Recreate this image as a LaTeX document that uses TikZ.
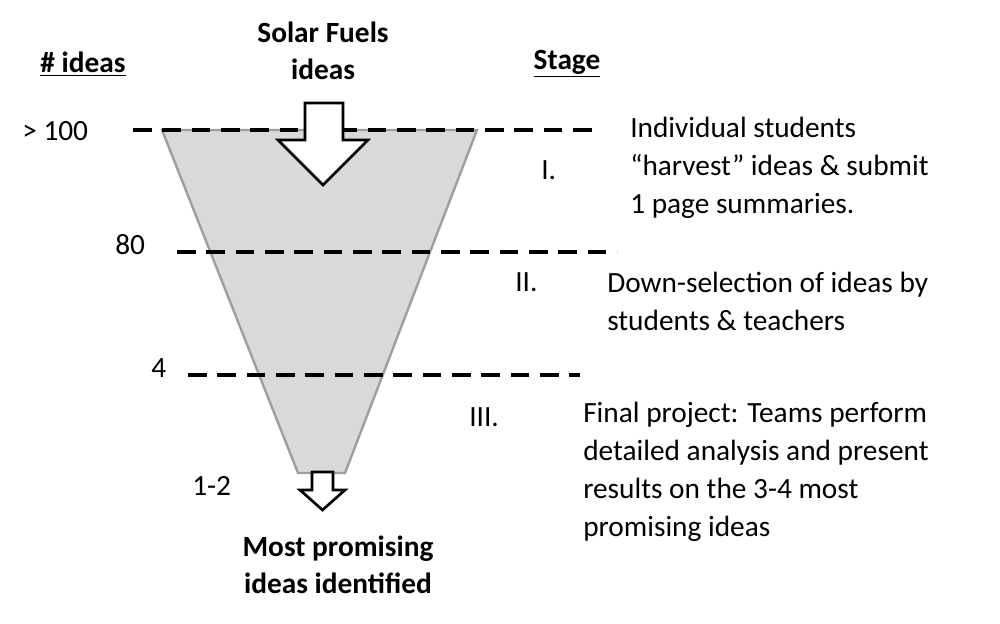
\documentclass[tikz,border=0pt]{standalone}
\usepackage{fontspec}
\setmainfont{Carlito}
\begin{document}
\begin{tikzpicture}[x=0.75pt,y=-0.75pt,
  txt/.style={font=\fontsize{22}{28.5}\selectfont,inner sep=0pt,align=left},
  btxt/.style={font=\fontsize{22}{28}\selectfont\bfseries,inner sep=0pt,align=center},
  level/.style={line width=3pt,dash pattern=on 14pt off 8pt},
  barrow/.style={draw=black,fill=white,line width=2pt,line join=miter}]
\useasboundingbox (0,0) rectangle (1000,624);
% funnel
\fill[fill=black!15,draw=black!38,line width=1.8pt] (162,130) -- (477,130) -- (345,473) -- (298,473) -- cycle;
% dashed levels
\draw[level] (133,130) -- (600,130);
\draw[level] (177,252) -- (617,252);
\draw[level] (188,375) -- (580,375);
% top arrow
\draw[barrow] (305,103) -- (343,103) -- (343,140) -- (368,140) -- (323,185) -- (278,140) -- (305,140) -- cycle;
% bottom arrow
\draw[barrow] (312,472) -- (333,472) -- (333,490) -- (345,490) -- (322.5,510) -- (300,490) -- (312,490) -- cycle;
% labels
\node[btxt] (sf) at (323,51) {Solar Fuels\\ideas};
\node[btxt] (ni) at (83,64) {\underline{\# ideas}};
\node[btxt] (st) at (567,64) {\underline{Stage}};
\node[txt,anchor=west] (n100) at (22,131) {> 100};
\node[txt,anchor=west] (n80) at (115,245) {80};
\node[txt,anchor=west] (n4) at (151,368) {4};
\node[txt,anchor=west] (n12) at (192,486) {1-2};
\node[txt,anchor=west] (s1) at (541,170) {I.};
\node[txt,anchor=west] (s2) at (515,282) {II.};
\node[txt,anchor=west] (s3) at (469,417) {III.};
\node[txt,anchor=west] (d1) at (630,168) {Individual students\\“harvest” ideas \& submit\\1 page summaries.};
\node[txt,anchor=west] (d2) at (607,301) {Down-selection of ideas by\\students \& teachers};
\node[txt,anchor=west] (d3) at (583,472) {Final project: Teams perform\\detailed analysis and present\\results on the 3-4 most\\promising ideas};
\node[btxt] (mp) at (338,565) {Most promising\\ideas identified};
\end{tikzpicture}
\end{document}
